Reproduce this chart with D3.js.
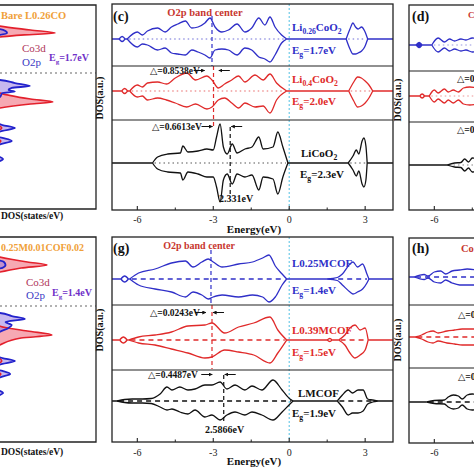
<!DOCTYPE html>
<html><head><meta charset="utf-8">
<script src="https://cdn.jsdelivr.net/npm/d3@7"></script>
<style>html,body{margin:0;padding:0;background:#fff;overflow:hidden}svg{display:block}</style>
</head><body>
<script>
// ================= DATA =================
const energyDomain = [-7, 4.1];
const xTicksMajor = [-6, -3, 0, 3];
const xTickLabels = ["-6", "-3", "0", "3"];
const xTicksMinor = [-4.5, -1.5, 1.5];

// ---- panel (c): Li0.26CoO2 / Li0.4CoO2 / LiCoO2 ----
const cNames = [["Li",["0.26"],"CoO",["2"]], ["Li",["0.4"],"CoO",["2"]], ["LiCoO",["2"]]];
const cGaps = ["1.7", "2.0", "2.3"];
const cCenters = [-3.05, -2.99, -2.331];
const cDeltas = ["△=0.8538eV", "△=0.6613eV"];
const cDeltaArrows = [[-3.3, -2.82], [-2.99, -2.331]];
const cCenterLabel = "2.331eV";

const cBlueLoopE = [-6.72, -6.6, -6.48], cBlueLoopUp = [0, 2.5, 0], cBlueLoopDn = [0, 2.5, 0];
const cBlueVbE = [-6.4, -6.0, -5.8, -5.6, -5.2, -4.9, -4.65, -4.4, -4.1, -3.85, -3.6, -3.33, -3.13, -2.93, -2.66, -2.4, -2.06, -1.75, -1.48, -1.2, -0.96, -0.76, -0.56, -0.3, -0.1];
const cBlueVbUp = [0, 7, 4, 8, 11, 7, 12, 15, 18, 11, 12, 16, 21, 12, 7, 9, 15, 7, 11, 21, 14, 22, 12, 4, 0];
const cBlueVbDn = [0, 8, 5, 6, 11, 9, 14, 15, 16, 11, 13, 16, 19, 11, 10, 11, 16, 9, 11, 18, 20, 23, 16, 4, 0];
const cBlueCbE = [2.25, 2.4, 2.52, 2.62, 2.72, 2.86, 2.98, 3.1];
const cBlueCbUp = [0, 10, 16, 12, 10, 12, 8, 0];
const cBlueCbDn = [0, 10, 15, 15, 14, 12, 8, 0];

const cRedLoopE = [-6.62, -6.5, -6.38], cRedLoopUp = [0, 2.5, 0], cRedLoopDn = [0, 2.5, 0];
const cRedVbE = [-6.3, -6.0, -5.8, -5.6, -5.2, -4.85, -4.5, -4.05, -3.7, -3.25, -3.05, -2.8, -2.55, -2.27, -2.0, -1.75, -1.35, -1.03, -0.76, -0.5, -0.1];
const cRedVbUp = [0, 6, 4, 8, 9, 7, 13, 18, 11, 15, 11, 3, 7, 11, 15, 9, 16, 11, 17, 8, 0];
const cRedVbDn = [0, 6, 5, 9, 7, 9, 12, 16, 13, 18, 16, 9, 7, 12, 17, 12, 16, 15, 22, 9, 0];
const cRedCbE = [2.35, 2.55, 2.7, 2.85, 3.0, 3.15, 3.3];
const cRedCbUp = [0, 9, 14, 13, 10, 6, 0];
const cRedCbDn = [0, 10, 16, 15, 12, 7, 0];

const cBlackVbE = [-5.4, -5.2, -4.8, -4.3, -4.2, -4.0, -3.6, -3.25, -3.0, -2.87, -2.73, -2.6, -2.45, -2.25, -2.06, -1.75, -1.47, -1.2, -1.03, -0.64, -0.45, -0.25, -0.05];
const cBlackVbUp = [0, 6, 9, 10, 17, 11, 12, 14, 13, 26, 39, 16, 9, 19, 10, 14, 16, 26, 14, 16, 31, 16, 0];
const cBlackVbDn = [0, 6, 9, 10, 17, 9, 11, 14, 14, 24, 39, 17, 11, 21, 11, 14, 12, 27, 14, 16, 31, 14, 0];
const cBlackCbE = [2.33, 2.52, 2.65, 2.75, 2.88, 2.95, 3.03, 3.08];
const cBlackCbUp = [0, 7, 13, 9, 22, 25, 17, 0];
const cBlackCbDn = [0, 7, 13, 8, 21, 24, 17, 0];

// ---- panel (g): L0.25MCOF / L0.39MCOF / LMCOF ----
const gNames = [["L0.25MCOF"], ["L0.39MCOF"], ["LMCOF"]];
const gGaps = ["1.4", "1.5", "1.9"];
const gCenters = [-3.09, -3.05, -2.5866];
const gDeltas = ["△=0.0243eV", "△=0.4487eV"];
const gDeltaArrows = [[-3.25, -3.05], [-3.0, -2.5866]];
const gCenterLabel = "2.5866eV";

const gBlueLoopE = [-6.65, -6.5, -6.35], gBlueLoopUp = [0, 3, 0], gBlueLoopDn = [0, 3, 0];
const gBlueVbE = [-6.3, -5.95, -5.3, -4.65, -4.1, -3.8, -3.45, -3.2, -3.0, -2.65, -2.0, -1.45, -1.05, -0.8, -0.55, -0.28, -0.1];
const gBlueVbUp = [0, 6, 10, 16, 18, 12, 17, 20, 17, 12, 15, 17, 21, 24, 13, 5, 0];
const gBlueVbDn = [0, 6, 10, 13, 18, 13, 16, 20, 18, 16, 18, 16, 18, 23, 18, 6, 0];
const gBlueCbE = [1.5, 1.9, 2.1, 2.4, 2.52, 2.7, 2.9, 3.07, 3.15];
const gBlueCbUp = [0, 1.5, 5, 15, 17, 12, 15, 5, 0];
const gBlueCbDn = [0, 1.5, 6, 13, 15, 13, 10, 4, 0];

const gRedLoopE = [-6.7, -6.55, -6.4], gRedLoopUp = [0, 3, 0], gRedLoopDn = [0, 3, 0];
const gRedVbE = [-6.35, -5.95, -5.3, -4.65, -4.0, -3.33, -3.05, -2.55, -2.0, -1.4, -0.76, -0.45, -0.1];
const gRedVbUp = [0, 3, 5, 8, 14, 15, 17, 7, 13, 17, 23, 10, 0];
const gRedVbDn = [0, 3, 5, 9, 13, 18, 17, 10, 12, 15, 23, 13, 0];
const gRedDotE = [1.5, 1.6, 1.7], gRedDotUp = [0, 1.5, 0], gRedDotDn = [0, 1.5, 0];
const gRedCbE = [1.95, 2.2, 2.4, 2.6, 2.8, 3.0, 3.12];
const gRedCbUp = [0, 5, 12, 15, 10, 12, 0];
const gRedCbDn = [0, 5, 13, 18, 15, 10, 0];

const gBlackVbE = [-6.8, -6.5, -6.2, -5.8, -5.45, -5.1, -4.83, -4.63, -4.32, -4.0, -3.72, -3.33, -3.05, -2.73, -2.46, -2.14, -1.75, -1.47, -1.08, -0.64, -0.28, 0.03, 0.15];
const gBlackVbUp = [0, 1.5, 2, 2, 2.5, 7, 14, 11, 14, 11, 12, 16, 16, 19, 12, 16, 11, 15, 11, 21, 11, 2, 0];
const gBlackVbDn = [0, 1.5, 2, 2, 2.5, 6, 9, 8, 11, 13, 9, 16, 14, 19, 14, 11, 14, 11, 14, 19, 11, 3, 0];
const gBlackCbE = [1.9, 2.1, 2.33, 2.5, 2.72, 2.92, 3.1, 3.3, 3.5];
const gBlackCbUp = [0, 6, 11, 8, 11, 11, 2, 1, 0];
const gBlackCbDn = [0, 6, 14, 12, 12, 10, 3, 1, 0];

// ---- panel (d) (visible part) ----
const dBlueLoopE = [-6.72, -6.6, -6.48], dBlueLoopUp = [0, 2.5, 0], dBlueLoopDn = [0, 2.5, 0];
const dBlueVbE = [-6.1, -5.85, -5.6, -5.4, -5.2, -4.95, -4.75, -4.5, -4.3];
const dBlueVbUp = [0, 7, 3, 6, 4, 6, 5, 7, 6];
const dBlueVbDn = [0, 7, 3, 6, 4, 6, 5, 7, 6];
const dRedLoopE = [-6.58, -6.48, -6.38], dRedLoopUp = [0, 2, 0], dRedLoopDn = [0, 2, 0];
const dRedVbE = [-6.2, -6.0, -5.85, -5.6, -5.45, -5.25, -5.05, -4.85, -4.6, -4.3];
const dRedVbUp = [0, 6, 3, 7, 4, 6, 4, 8, 9, 8];
const dRedVbDn = [0, 6, 3, 7, 4, 7, 4, 8, 9, 8];
const dBlackVbE = [-5.5, -5.2, -4.95, -4.8, -4.65, -4.5, -4.3];
const dBlackVbUp = [0, 2, 2.5, 6, 3, 7, 6];
const dBlackVbDn = [0, 2, 2.5, 6, 3, 7, 6];

// ---- panel (h) (visible part) ----
const hBlueVbE = [-6.8, -6.4, -6.25, -6.0, -5.75, -5.55, -5.3, -5.0, -4.7, -4.3];
const hBlueVbUp = [0, 2.5, 1, 5, 6, 3, 6, 7, 8, 7];
const hBlueVbDn = [0, 2.5, 1, 5, 6, 3, 6, 8, 8, 8];
const hRedVbE = [-6.75, -6.5, -6.25, -6.05, -5.85, -5.5, -5.2, -4.9, -4.6, -4.3];
const hRedVbUp = [0, 2, 5, 6, 4, 6, 7, 8, 8, 8];
const hRedVbDn = [0, 2, 5, 6, 4, 6, 7, 8, 8, 8];
const hBlackVbE = [-6.3, -6.0, -5.6, -5.45, -5.25, -5.05, -4.9, -4.7, -4.5, -4.3];
const hBlackVbUp = [0, 1.5, 2, 5, 7, 6, 3, 7, 8, 7];
const hBlackVbDn = [0, 1.5, 2, 5, 7, 6, 3, 7, 8, 7];

// ---- left panels (b) and (f): PDOS, energy vertical ----
const bTitle = "Bare L0.26CO";
const bGap = "1.7";
const bCoE = [3.5, 3.12, 2.76, 2.53, 2.35, 2.24, 2.12, 1.94, 1.82, -0.18, -0.41, -0.88, -1.18, -1.53, -1.71, -1.82, -2.06, -2.29, -2.65, -3.24, -3.65, -4.0, -4.53, -5.06, -5.71, -6.88, -8.0];
const bCoV = [0, 1.0, 1.92, 2.9, 3.69, 2.7, 1.92, 0.8, 0, 0, 1.0, 1.7, 1.92, 2.9, 3.62, 2.9, 1.92, 1.6, 1.5, 1.98, 1.6, 1.95, 1.5, 1.6, 1.0, 0.3, 0];
const bOE = [3.0, 2.65, 2.59, 2.47, 2.35, 2.24, 2.12, 1.9, 0.0, -0.18, -0.41, -0.59, -0.76, -0.88, -1.0, -1.09, -1.18, -1.41, -1.6, -2.18, -2.76, -3.06, -3.24, -3.41, -3.65, -3.82, -4.0, -4.18, -4.53, -4.88, -5.06, -5.24, -5.71, -6.88, -8.0];
const bOV = [0, 1.2, 1.9, 2.1, 2.15, 1.9, 1.2, 0, 0, 0.3, 1.92, 2.4, 2.88, 2.3, 2.2, 2.4, 2.0, 1.92, 1.7, 1.5, 1.6, 2.0, 2.4, 2.0, 1.6, 2.0, 2.3, 1.95, 1.5, 1.85, 2.02, 1.85, 1.0, 0.4, 0];

const fTitle = "0.25M0.01COF0.02";
const fGap = "1.4";
const fCoE = [3.71, 3.29, 2.88, 2.59, 2.41, 2.24, 2.0, 1.76, 1.53, -0.18, -0.35, -0.71, -1.18, -1.47, -1.71, -1.88, -2.29, -2.59, -3.24, -3.65, -4.0, -4.53, -5.12, -5.82, -6.71, -8.0];
const fCoV = [0, 1.0, 1.92, 2.8, 3.43, 2.6, 1.92, 0.8, 0, 0, 1.0, 1.7, 1.92, 2.8, 3.59, 2.6, 1.92, 1.6, 1.98, 1.6, 1.95, 1.5, 1.6, 1.0, 0.5, 0];
const fOE = [3.0, 2.76, 2.59, 2.41, 2.24, 2.12, 1.82, 0.0, -0.18, -0.41, -0.59, -0.76, -0.94, -1.12, -1.29, -1.53, -2.0, -2.71, -3.06, -3.24, -3.41, -3.65, -3.82, -4.0, -4.18, -4.65, -4.94, -5.12, -5.29, -5.82, -7.0, -8.0];
const fOV = [0, 1.6, 2.05, 2.1, 2.0, 1.5, 0, 0, 0.3, 1.92, 2.3, 2.72, 2.1, 2.3, 2.2, 1.9, 1.6, 1.5, 2.0, 2.4, 2.0, 1.6, 2.0, 2.25, 1.95, 1.5, 1.85, 2.02, 1.85, 1.0, 0.4, 0];

// ================= DRAWING =================
const FONT = "'Liberation Serif','Times New Roman','DejaVu Serif',serif";
const COLORS = ["#2f2fc8", "#e02a2a", "#111111"];
const W = 474;
const svg = d3.select("body").append("svg").attr("width", W).attr("height", 474);
const defs = svg.append("defs");
defs.append("marker").attr("id", "arr").attr("viewBox", "0 0 10 10").attr("refX", 9).attr("refY", 5)
  .attr("markerWidth", 4).attr("markerHeight", 4).attr("orient", "auto")
  .append("path").attr("d", "M0,0L10,5L0,10z").attr("fill", "#111");
let clipN = 0;
function clip(x, y, w, h) {
  const id = "cp" + (++clipN);
  defs.append("clipPath").attr("id", id).append("rect").attr("x", x).attr("y", y).attr("width", w).attr("height", h);
  return `url(#${id})`;
}
const seg = (E, up, dn, fill) => ({E, up, dn, fill});

function rich(g, x, y, parts, o) {
  const t = g.append("text").attr("x", x).attr("y", y).attr("font-family", FONT)
    .attr("font-size", o.size).attr("font-weight", o.weight || "bold").attr("fill", o.color)
    .attr("text-anchor", o.anchor || "start");
  let shifted = false;
  parts.forEach(p => {
    const isSub = Array.isArray(p);
    const s = t.append("tspan").text(isSub ? p[0] : p);
    if (isSub) { s.attr("font-size", o.size * 0.7).attr("dy", o.size * 0.3); shifted = true; }
    else if (shifted) { s.attr("dy", -o.size * 0.3); shifted = false; }
  });
  return t;
}

function drawSeries(g, x, y, segs, color, dash) {
  const sorted = segs.slice().sort((a, b) => a.E[0] - b.E[0]);
  const base = y(0);
  let prev = energyDomain[0];
  const bl = (e0, e1) => g.append("line").attr("x1", x(e0)).attr("x2", x(e1)).attr("y1", base).attr("y2", base)
      .attr("stroke", color).attr("stroke-width", 1.5);
  sorted.forEach(s => { bl(prev, s.E[0]); prev = s.E[s.E.length - 1]; });
  bl(prev, energyDomain[1] + 3);
  sorted.forEach(s => {
    const pts = s.E.map((e, i) => [e, s.up[i], s.dn[i]]);
    if (s.fill) {
      g.append("path").datum(pts).attr("fill", color)
        .attr("d", d3.area().x(d => x(d[0])).y0(d => y(-d[2])).y1(d => y(d[1])).curve(d3.curveMonotoneX));
    } else if (s.E.length > 3) {
      g.append("line").attr("x1", x(s.E[0]) + 2).attr("x2", x(s.E[s.E.length - 1]) - 2)
        .attr("y1", base).attr("y2", base).attr("stroke", color)
        .attr("stroke-width", dash.w).attr("stroke-dasharray", dash.d).attr("opacity", dash.o);
    }
    g.append("path").datum(pts).attr("fill", "none").attr("stroke", color).attr("stroke-width", 1.3)
      .attr("d", d3.line().x(d => x(d[0])).y(d => y(d[1])).curve(d3.curveMonotoneX));
    g.append("path").datum(pts).attr("fill", "none").attr("stroke", color).attr("stroke-width", 1.3)
      .attr("d", d3.line().x(d => x(d[0])).y(d => y(-d[2])).curve(d3.curveMonotoneX));
  });
}

function dosPanel(L, seriesList, dash, centers, centerSpans, tickLabelY, energyY) {
  const x = d3.scaleLinear().domain(energyDomain).range([L.x0, L.x1]);
  const g = svg.append("g").attr("clip-path", clip(L.x0, L.top, L.x1 - L.x0, L.bottom - L.top));
  g.append("line").attr("x1", x(0)).attr("x2", x(0)).attr("y1", L.top).attr("y2", L.bottom)
    .attr("stroke", "#62c6e6").attr("stroke-width", 1.1).attr("stroke-dasharray", "2,2");
  seriesList.forEach((segs, i) => {
    const [a, b] = L.subs[i];
    const y = d3.scaleLinear().domain(L.doms[i]).range([b, a]);
    drawSeries(g, x, y, segs, COLORS[i], dash);
  });
  if (centers) centers.forEach((c, i) => {
    svg.append("line").attr("x1", x(c)).attr("x2", x(c)).attr("y1", centerSpans[i][0]).attr("y2", centerSpans[i][1])
      .attr("stroke", COLORS[i]).attr("stroke-width", 1.2).attr("stroke-dasharray", "4,3");
  });
  svg.append("rect").attr("x", L.x0).attr("y", L.top).attr("width", L.x1 - L.x0).attr("height", L.bottom - L.top)
    .attr("fill", "none").attr("stroke", "#222").attr("stroke-width", 1.3);
  L.subs.slice(1).forEach(s => svg.append("line").attr("x1", L.x0).attr("x2", L.x1).attr("y1", s[0]).attr("y2", s[0])
    .attr("stroke", "#222").attr("stroke-width", 1.2));
  xTicksMajor.forEach((t, i) => {
    if (x(t) > W) return;
    svg.append("line").attr("x1", x(t)).attr("x2", x(t)).attr("y1", L.bottom).attr("y2", L.bottom - 4)
      .attr("stroke", "#222").attr("stroke-width", 1.1);
    if (x(t) < W - 8)
      svg.append("text").attr("x", x(t)).attr("y", tickLabelY).attr("text-anchor", "middle")
        .attr("font-family", FONT).attr("font-size", 10).attr("fill", "#222").text(xTickLabels[i]);
  });
  xTicksMinor.forEach(t => { if (x(t) <= W) svg.append("line").attr("x1", x(t)).attr("x2", x(t)).attr("y1", L.bottom).attr("y2", L.bottom - 2.5)
    .attr("stroke", "#222").attr("stroke-width", 1); });
  if (energyY) rich(svg, 254, energyY, ["Energy(eV)"], {size: 11, color: "#111", anchor: "middle"});
  return x;
}

function leftPanel(top, bottom, Edom, coE, coV, oE, oV) {
  const y = d3.scaleLinear().domain(Edom).range([bottom, top]);
  const x = d3.scaleLinear().domain([0, 5]).range([-60, 96]);
  const g = svg.append("g").attr("clip-path", clip(-5, top, 101, bottom - top));
  const co = coE.map((e, i) => [e, coV[i]]), o = oE.map((e, i) => [e, oV[i]]);
  const area = d3.area().y(d => y(d[0])).x0(x(0)).x1(d => x(d[1])).curve(d3.curveMonotoneY);
  const line = d3.line().y(d => y(d[0])).x(d => x(d[1])).curve(d3.curveMonotoneY);
  g.append("path").datum(co).attr("fill", "#f59aa6").attr("opacity", 0.85).attr("d", area);
  g.append("path").datum(o).attr("fill", "#9a7ee0").attr("opacity", 0.55).attr("d", area);
  g.append("path").datum(co).attr("fill", "none").attr("stroke", "#e3202c").attr("stroke-width", 1.6).attr("d", line);
  g.append("path").datum(o).attr("fill", "none").attr("stroke", "#2323cc").attr("stroke-width", 1.8).attr("d", line);
  svg.append("line").attr("x1", 0).attr("x2", 96).attr("y1", y(0)).attr("y2", y(0))
    .attr("stroke", "#666").attr("stroke-width", 1.2).attr("stroke-dasharray", "2,3");
  svg.append("path").attr("d", `M-2,${top}H96V${bottom}H-2`).attr("fill", "none").attr("stroke", "#222").attr("stroke-width", 1.3);
  return y;
}

// ---- left panels ----
leftPanel(5, 209, [-8, 4], bCoE, bCoV, bOE, bOV);
rich(svg, 1, 19, [bTitle], {size: 10.5, color: "#f0a038"});
rich(svg, 22, 52, ["Co3d"], {size: 11, weight: "normal", color: "#b0365a"});
rich(svg, 22, 66, ["O2p"], {size: 11, weight: "normal", color: "#3a3ac4"});
rich(svg, 49, 61, ["E", ["g"], "=" + bGap + "eV"], {size: 10, color: "#7030c8"});
rich(svg, 1, 219, ["DOS(states/eV)"], {size: 9.5, color: "#111"});

leftPanel(237, 442, [-8, 4.06], fCoE, fCoV, fOE, fOV);
rich(svg, 1, 251, [fTitle], {size: 10, color: "#f0a038"});
rich(svg, 26, 286, ["Co3d"], {size: 11, weight: "normal", color: "#b0365a"});
rich(svg, 26, 299, ["O2p"], {size: 11, weight: "normal", color: "#3a3ac4"});
rich(svg, 52, 296, ["E", ["g"], "=" + fGap + "eV"], {size: 10, color: "#7030c8"});
rich(svg, 1, 455, ["DOS(states/eV)"], {size: 9.5, color: "#111"});

// DOS(a.u.) labels
[[103, 98], [103, 330], [401, 100], [401, 340]].forEach(p =>
  rich(svg, 0, 0, ["DOS(a.u.)"], {size: 10, color: "#111", anchor: "middle"})
    .attr("transform", `translate(${p[0]},${p[1]}) rotate(-90)`));

// ---- panel (c) ----
const dotDash = {d: "1.5,3", w: 1.1, o: 0.7};
const xc = dosPanel({x0: 112, x1: 393, top: 4, bottom: 210, subs: [[4, 66], [66, 120], [120, 210]], doms: [[-27, 35], [-29, 25], [-47, 43]]},
  [[seg(cBlueLoopE, cBlueLoopUp, cBlueLoopDn), seg(cBlueVbE, cBlueVbUp, cBlueVbDn), seg(cBlueCbE, cBlueCbUp, cBlueCbDn)],
   [seg(cRedLoopE, cRedLoopUp, cRedLoopDn), seg(cRedVbE, cRedVbUp, cRedVbDn), seg(cRedCbE, cRedCbUp, cRedCbDn)],
   [seg(cBlackVbE, cBlackVbUp, cBlackVbDn), seg(cBlackCbE, cBlackCbUp, cBlackCbDn)]],
  dotDash, cCenters, [[16, 66], [66, 127], [127, 196]], 223, 233);

// ---- panel (g) ----
const lineDash = {d: "5,4", w: 1.4, o: 1};
const xg = dosPanel({x0: 112, x1: 393, top: 237, bottom: 442, subs: [[237, 305], [305, 370], [370, 442]], doms: [[-26, 42], [-30, 35], [-41, 31]]},
  [[seg(gBlueLoopE, gBlueLoopUp, gBlueLoopDn), seg(gBlueVbE, gBlueVbUp, gBlueVbDn), seg(gBlueCbE, gBlueCbUp, gBlueCbDn)],
   [seg(gRedLoopE, gRedLoopUp, gRedLoopDn), seg(gRedVbE, gRedVbUp, gRedVbDn), seg(gRedDotE, gRedDotUp, gRedDotDn), seg(gRedCbE, gRedCbUp, gRedCbDn)],
   [seg(gBlackVbE, gBlackVbUp, gBlackVbDn), seg(gBlackCbE, gBlackCbUp, gBlackCbDn)]],
  lineDash, gCenters, [[250, 305], [305, 369], [375, 424]], 456, 465);

// ---- panels (d) and (h) ----
dosPanel({x0: 409, x1: 690, top: 5, bottom: 210, subs: [[5, 71], [71, 122], [122, 210]], doms: [[-26, 40], [-26, 25], [-45, 43]]},
  [[seg(dBlueLoopE, dBlueLoopUp, dBlueLoopDn, true), seg(dBlueVbE, dBlueVbUp, dBlueVbDn)],
   [seg(dRedLoopE, dRedLoopUp, dRedLoopDn), seg(dRedVbE, dRedVbUp, dRedVbDn)],
   [seg(dBlackVbE, dBlackVbUp, dBlackVbDn)]],
  {d: "1.5,3", w: 1.1, o: 0.5}, null, null, 223, null);
dosPanel({x0: 409, x1: 690, top: 238, bottom: 443, subs: [[238, 305], [305, 368], [368, 443]], doms: [[-28, 39], [-31, 32], [-41, 34]]},
  [[seg(hBlueVbE, hBlueVbUp, hBlueVbDn)], [seg(hRedVbE, hRedVbUp, hRedVbDn)], [seg(hBlackVbE, hBlackVbUp, hBlackVbDn)]],
  lineDash, null, null, 456, null);

// ---- texts in (c) ----
rich(svg, 113, 21, ["(c)"], {size: 14, color: "#111"});
rich(svg, 205, 16, ["O2p band center"], {size: 10.5, color: "#c8372f", anchor: "middle"});
const nameX = [292, 292, 301], nameYc = [31, 83, 157], gapYc = [54, 105, 178];
cNames.forEach((n, i) => {
  rich(svg, nameX[i], nameYc[i], n, {size: 11, color: COLORS[i]});
  rich(svg, nameX[i] - (i === 2 ? 1 : 0), gapYc[i], ["E", ["g"], "=" + cGaps[i] + "eV"], {size: 11, color: COLORS[i]});
});
function deltaMark(x, text, tx, ty, arrows) {
  rich(svg, tx, ty, [text], {size: 9.5, color: "#111"});
  const a = x(arrows[0]), b = x(arrows[1]);
  svg.append("line").attr("x1", a - 12).attr("x2", a - 1).attr("y1", ty - 3.5).attr("y2", ty - 3.5)
    .attr("stroke", "#111").attr("stroke-width", 1).attr("marker-end", "url(#arr)");
  svg.append("line").attr("x1", b + 12).attr("x2", b + 1).attr("y1", ty - 3.5).attr("y2", ty - 3.5)
    .attr("stroke", "#111").attr("stroke-width", 1).attr("marker-end", "url(#arr)");
}
deltaMark(xc, cDeltas[0], 150, 74, cDeltaArrows[0]);
deltaMark(xc, cDeltas[1], 152, 130, cDeltaArrows[1]);
rich(svg, 219, 202, [cCenterLabel], {size: 10, color: "#111"});

// ---- texts in (g) ----
rich(svg, 113, 253, ["(g)"], {size: 14, color: "#111"});
rich(svg, 199, 249, ["O2p band center"], {size: 10, color: "#c8372f", anchor: "middle"});
const nameYg = [267, 334, 397], gapYg = [294, 356, 417];
gNames.forEach((n, i) => {
  rich(svg, i === 2 ? 298 : 292, nameYg[i], n, {size: 11, color: COLORS[i]});
  rich(svg, 292, gapYg[i], ["E", ["g"], "=" + gGaps[i] + "eV"], {size: 11, color: COLORS[i]});
});
deltaMark(xg, gDeltas[0], 150, 316, gDeltaArrows[0]);
deltaMark(xg, gDeltas[1], 148, 378, gDeltaArrows[1]);
rich(svg, 205, 433, [gCenterLabel], {size: 10, color: "#111"});

// ---- texts in (d) and (h) (only the parts inside the picture) ----
rich(svg, 412, 21, ["(d)"], {size: 14, color: "#111"});
rich(svg, 468, 18, ["C"], {size: 9, color: "#c8372f"});
rich(svg, 457, 82, ["△=0"], {size: 9.5, color: "#111"});
rich(svg, 457, 133, ["△=0"], {size: 9.5, color: "#111"});
rich(svg, 412, 253, ["(h)"], {size: 14, color: "#111"});
rich(svg, 461, 252, ["Co"], {size: 10.5, color: "#c8372f"});
rich(svg, 458, 318, ["△=0"], {size: 9.5, color: "#111"});
rich(svg, 458, 380, ["△=0"], {size: 9.5, color: "#111"});
</script>
</body></html>
